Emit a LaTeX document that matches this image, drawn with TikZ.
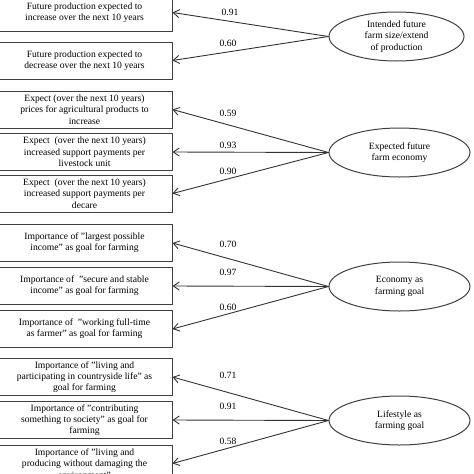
\documentclass[tikz,border=0pt]{standalone}
\usepackage{fontspec}
\setmainfont{Liberation Serif}
\usetikzlibrary{shapes.geometric,arrows.meta}
\begin{document}
\begin{tikzpicture}[x=1pt,y=-1pt,
  item/.style={draw=black!75,line width=1pt,rectangle,minimum width=175pt,minimum height=37pt,inner sep=0pt,align=center,font=\fontsize{9.6}{11.3}\selectfont,anchor=center},
  factor/.style={draw=black!75,line width=1pt,ellipse,inner sep=0pt,align=center,font=\fontsize{9.6}{11.3}\selectfont},
  load/.style={draw=black!80,line width=0.9pt,-{Straight Barb[length=6pt,width=8pt,line width=0.9pt]}},
  coef/.style={font=\fontsize{9.6}{11.3}\selectfont,inner sep=0pt}]
\clip (0,0) rectangle (474,474);
\fill[white] (0,0) rectangle (474,474);
% boxes
\node[item] (b1) at (84.5,12.5) {Future production expected to\\increase over the next 10 years};
\node[item] (b2) at (84.5,60.5) {Future production expected to\\decrease over the next 10 years};
\node[item] (b3) at (84.5,109.5) {Expect (over the next 10 years)\\prices for agricultural products to\\increase};
\node[item] (b4) at (84.5,152) {Expect\ \ (over the next 10 years)\\increased support payments per\\livestock unit};
\node[item] (b5) at (84.5,193.5) {Expect\ \ (over the next 10 years)\\increased support payments per\\decare};
\node[item] (b6) at (84.5,243) {Importance of "largest possible\\income" as goal for farming};
\node[item] (b7) at (84.5,286) {Importance of\ \ "secure and stable\\income" as goal for farming};
\node[item] (b8) at (84.5,329) {Importance of\ \ "working full-time\\as farmer" as goal for farming};
\node[item] (b9) at (84.5,377) {Importance of "living and\\participating in countryside life" as\\goal for farming};
\node[item] (b10) at (84.5,420) {Importance of "contributing\\something to society" as goal for\\farming};
\node[item] (b11) at (84.5,463.5) {Importance of "living and\\producing without damaging the\\environment"};
% factors
\node[factor,minimum width=135pt,minimum height=49pt] (f1) at (396.5,36.5) {Intended future\\farm size/extend\\of production};
\node[factor,minimum width=141pt,minimum height=49pt] (f2) at (399.5,152.5) {Expected future\\farm economy};
\node[factor,minimum width=141pt,minimum height=49pt] (f3) at (399.5,286.5) {Economy as\\farming goal};
\node[factor,minimum width=141pt,minimum height=49pt] (f4) at (399.5,420.5) {Lifestyle as\\farming goal};
% loadings
\draw[load] (f1.west) -- (b1.east);
\draw[load] (f1.west) -- (b2.east);
\draw[load] (f2.west) -- (b3.east);
\draw[load] (f2.west) -- (b4.east);
\draw[load] (f2.west) -- (b5.east);
\draw[load] (f3.west) -- (b6.east);
\draw[load] (f3.west) -- (b7.east);
\draw[load] (f3.west) -- (b8.east);
\draw[load] (f4.west) -- (b9.east);
\draw[load] (f4.west) -- (b10.east);
\draw[load] (f4.west) -- (b11.east);
% coefficients
\node[coef] (c1) at (230,12) {0.91};
\node[coef] (c2) at (228,43) {0.60};
\node[coef] (c3) at (228,113) {0.59};
\node[coef] (c4) at (228,145) {0.93};
\node[coef] (c5) at (228,171) {0.90};
\node[coef] (c6) at (228,244) {0.70};
\node[coef] (c7) at (228,272) {0.97};
\node[coef] (c8) at (228,307) {0.60};
\node[coef] (c9) at (228,375) {0.71};
\node[coef] (c10) at (228,406) {0.91};
\node[coef] (c11) at (228,441) {0.58};
\end{tikzpicture}
\end{document}
